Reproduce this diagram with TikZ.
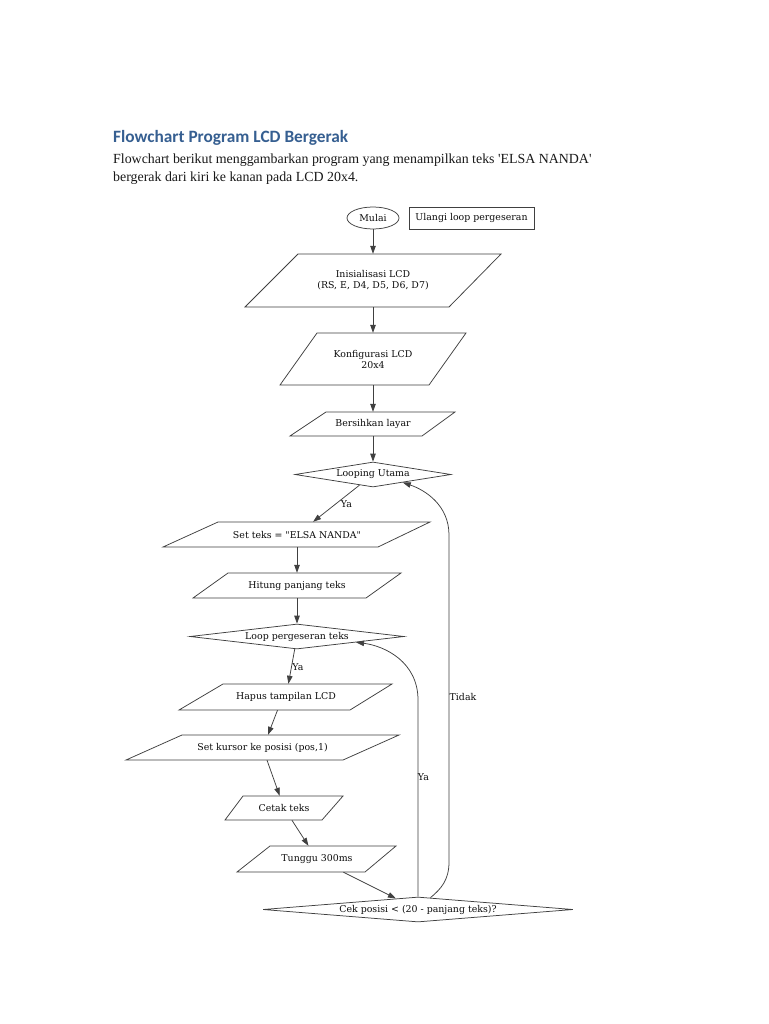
\documentclass[tikz,border=0pt]{standalone}
\usepackage{fontspec}
\setmainfont{Liberation Serif}
\newfontfamily\dfont{DejaVu Serif}
\newfontfamily\hfont{Carlito}
\usetikzlibrary{shapes.geometric,arrows.meta,calc}
\definecolor{titleblue}{RGB}{54,95,145}
\tikzset{
  dtext/.style={font=\dfont\fontsize{9.4}{11}\selectfont, text=black!95},
  sl/.style={draw=black!75, line width=0.75pt},
  pnode/.style={dtext, inner sep=0pt, align=center},
  dia/.style={diamond, sl, dtext, inner sep=0pt},
  arr/.style={sl, -{Triangle[length=8pt,width=5.5pt]}},
  lbl/.style={dtext, inner sep=0pt},
  head/.style={anchor=base west, inner sep=0pt}
}
% name, cx, cy, h, top-left x, top-right x, bottom-left x, bottom-right x, text
\newcommand\pgram[9]{%
  \node[pnode, minimum width=#6-#7, minimum height=#4] (#1) at (#2,#3) {#9};
  \draw[sl] (#5,#3-#4/2) -- (#6,#3-#4/2) -- (#8,#3+#4/2) -- (#7,#3+#4/2) -- cycle;
}
\begin{document}
\begin{tikzpicture}[x=1pt,y=-1pt]
\fill[white] (0,0) rectangle (768,1024);
\useasboundingbox (0,0) rectangle (768,1024);

% header
\node[head, font=\hfont\bfseries\fontsize{17.3}{21}\selectfont, text=titleblue] (title) at (113,143) {Flowchart Program LCD Bergerak};
\node[head, font=\fontsize{13.9}{18}\selectfont, text=black!90] (body1) at (113,164) {Flowchart berikut menggambarkan program yang menampilkan teks \textquotesingle ELSA NANDA\textquotesingle};
\node[head, font=\fontsize{13.9}{18}\selectfont, text=black!90] (body2) at (113,182) {bergerak dari kiri ke kanan pada LCD 20x4.};

% nodes
\node[ellipse, sl, dtext, minimum width=52, minimum height=22, inner sep=0pt] (mulai) at (373,218) {Mulai};
\node[rectangle, sl, dtext, minimum width=125, minimum height=22, inner sep=0pt] (ulangi) at (471.5,218) {Ulangi loop pergeseran};

\pgram{init}{373}{280.5}{53}{298}{501}{245}{449}{Inisialisasi LCD\\(RS, E, D4, D5, D6, D7)}
\pgram{konf}{373}{359}{52}{317}{466}{280}{429}{Konfigurasi LCD\\20x4}
\pgram{bers}{373}{424}{24}{326}{455}{290}{422}{Bersihkan layar}
\node[dia, aspect=6.2, minimum width=156, minimum height=25] (lu) at (373,474.5) {Looping Utama};
\pgram{sett}{297}{534.5}{25}{218}{430}{163}{378}{Set teks = "ELSA NANDA"}
\pgram{hit}{297}{585.5}{25}{228}{401}{193}{366}{Hitung panjang teks}
\node[dia, aspect=8.6, minimum width=214, minimum height=25] (lps) at (297,636.5) {Loop pergeseran teks};
\pgram{hap}{286}{697}{26}{223}{392}{179}{350}{Hapus tampilan LCD}
\pgram{kur}{262.5}{747.5}{25}{182}{399}{126}{343}{Set kursor ke posisi (pos,1)}
\pgram{cet}{284}{808}{24}{243}{343}{225}{322}{Cetak teks}
\pgram{tun}{317}{859}{26}{270}{396}{237}{365}{Tunggu 300ms}
\node[dia, aspect=12.4, minimum width=310, minimum height=25] (cek) at (418,909.5) {Cek posisi < (20 - panjang teks)?};

% connectors
\draw[arr] (mulai) -- (init);
\draw[arr] (init) -- (konf);
\draw[arr] (konf) -- (bers);
\draw[arr] (bers) -- (lu);
\draw[arr] (lu) -- (sett);
\draw[arr] (sett) -- (hit);
\draw[arr] (hit) -- (lps);
\draw[arr] (lps) -- (hap);
\draw[arr] ([xshift=-8.5pt]hap.south) -- ([xshift=5.5pt]kur.north);
\draw[arr] (kur) -- (cet);
\draw[arr] (cet) -- (tun);
\draw[arr] (tun) -- (cek);
\draw[arr] (cek.north) -- (418,700) .. controls (418,662) and (385,646) .. ($(lps.east)!0.45!(lps.south)$);
\draw[arr] ($(cek.north)!0.08!(cek.east)$) .. controls (441,889) and (449,880) .. (449,862) -- (449,535) .. controls (449,505) and (425,490) .. ($(lu.east)!0.62!(lu.south)$);

% labels
\node[lbl] (ya1) at (346.5,504) {Ya};
\node[lbl] (ya2) at (298,667) {Ya};
\node[lbl] (ya3) at (423.5,777) {Ya};
\node[lbl] (tidak) at (463,697) {Tidak};
\end{tikzpicture}
\end{document}
